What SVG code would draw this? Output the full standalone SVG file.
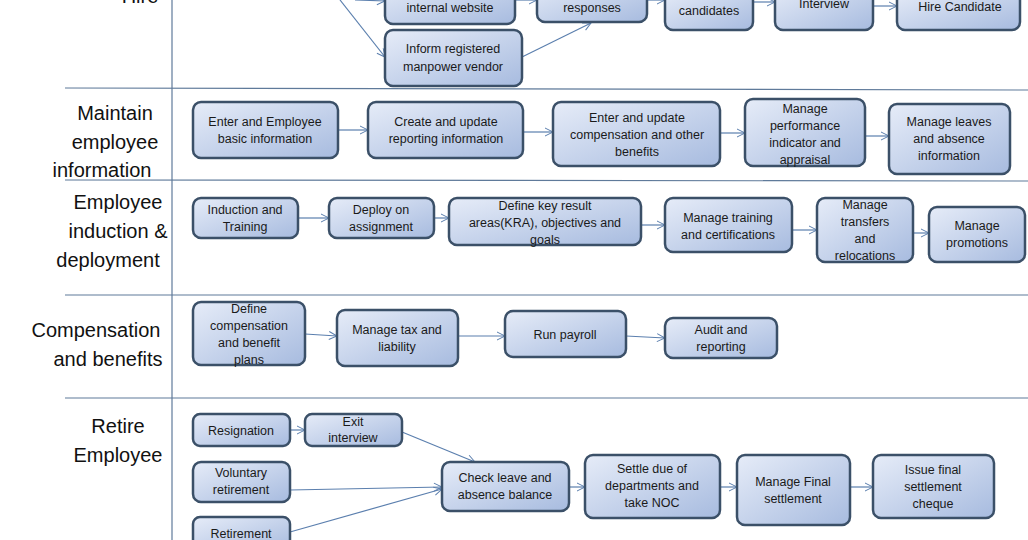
<svg xmlns="http://www.w3.org/2000/svg" width="1028" height="540" viewBox="0 0 1028 540">
<defs>
<linearGradient id="g" x1="0" y1="0" x2="1" y2="1"><stop offset="0" stop-color="#e6ecf8"/><stop offset="1" stop-color="#a7bbdf"/></linearGradient>
<marker id="a" markerWidth="10" markerHeight="10" refX="9" refY="5" orient="auto" markerUnits="userSpaceOnUse"><path d="M1,1 L9,5 L1,9" fill="none" stroke="#5b7fae" stroke-width="1"/></marker>
</defs>
<style>
.b{fill:url(#g);stroke:#3b5068;stroke-width:2.5}
.t{font-family:"Liberation Sans",Arial,sans-serif;font-size:12.5px;fill:#1a1a1a;text-anchor:middle}
.l{font-family:"Liberation Sans",Arial,sans-serif;font-size:20px;fill:#111;text-anchor:middle}
.c line{stroke:#5b7fae;stroke-width:1.2;marker-end:url(#a)}
.g{stroke:#5f7a9a;stroke-width:1.2}
</style>
<rect width="1028" height="540" fill="#fff"/>
<g id="lanes">
<line class="g" x1="172" y1="0" x2="172" y2="540"/>
<line class="g" x1="65" y1="88" x2="1028" y2="90"/>
<line class="g" x1="65" y1="180" x2="1028" y2="181"/>
<line class="g" x1="65" y1="295" x2="1028" y2="295"/>
<line class="g" x1="65" y1="398" x2="1028" y2="398"/>
<text class="l" x="140" y="3">Hire</text>
<text class="l" x="115" y="120">Maintain</text><text class="l" x="115" y="149">employee</text><text class="l" x="102" y="177">information</text>
<text class="l" x="118" y="209">Employee</text><text class="l" x="118" y="238">induction &amp;</text><text class="l" x="108" y="267">deployment</text>
<text class="l" x="96" y="337">Compensation</text><text class="l" x="108" y="366">and benefits</text>
<text class="l" x="118" y="433">Retire</text><text class="l" x="118" y="462">Employee</text>
</g>
<g class="c">
<line x1="340" y1="0" x2="385" y2="57"/>
<line x1="355" y1="0" x2="385" y2="1"/>
<line x1="522" y1="57" x2="591" y2="23"/>
<line x1="515" y1="0" x2="537" y2="0"/>
<line x1="647" y1="0" x2="665" y2="0"/>
<line x1="753" y1="2" x2="775" y2="2"/>
<line x1="873" y1="6" x2="897" y2="6"/>
<line x1="338" y1="130" x2="368" y2="130"/>
<line x1="523" y1="132" x2="553" y2="132"/>
<line x1="720" y1="133" x2="745" y2="133"/>
<line x1="865" y1="136" x2="889" y2="136"/>
<line x1="298" y1="218" x2="329" y2="218"/>
<line x1="434" y1="218" x2="449" y2="218"/>
<line x1="641" y1="225" x2="665" y2="225"/>
<line x1="792" y1="230" x2="817" y2="230"/>
<line x1="913" y1="233" x2="929" y2="233"/>
<line x1="305" y1="334" x2="337" y2="336"/>
<line x1="458" y1="336" x2="505" y2="336"/>
<line x1="626" y1="336" x2="665" y2="338"/>
<line x1="290" y1="430" x2="305" y2="430"/>
<line x1="402" y1="432" x2="475" y2="462"/>
<line x1="290" y1="490" x2="442" y2="487"/>
<line x1="290" y1="532" x2="442" y2="489"/>
<line x1="569" y1="487" x2="585" y2="487"/>
<line x1="720" y1="487" x2="737" y2="487"/>
<line x1="850" y1="487" x2="873" y2="487"/>
</g>
<g id="n1"><rect class="b" x="385" y="-20" width="130" height="44" rx="8"/><text class="t" x="450" y="12">internal website</text></g>
<g id="n2"><rect class="b" x="385" y="30" width="137" height="56" rx="8"/><text class="t" x="453" y="53">Inform registered</text><text class="t" x="453" y="71">manpower vendor</text></g>
<g id="n3"><rect class="b" x="537" y="-20" width="110" height="42" rx="8"/><text class="t" x="592" y="12">responses</text></g>
<g id="n4"><rect class="b" x="665" y="-10" width="88" height="40" rx="8"/><text class="t" x="709" y="15">candidates</text></g>
<g id="n5"><rect class="b" x="775" y="-15" width="98" height="45" rx="8"/><text class="t" x="824" y="8">Interview</text></g>
<g id="n6"><rect class="b" x="897" y="-10" width="123" height="40" rx="8"/><text class="t" x="960" y="11">Hire Candidate</text></g>

<g id="m1"><rect class="b" x="193" y="102" width="145" height="56" rx="8"/><text class="t" x="265" y="126">Enter and Employee</text><text class="t" x="265" y="143">basic information</text></g>
<g id="m2"><rect class="b" x="368" y="102" width="155" height="56" rx="8"/><text class="t" x="446" y="126">Create and update</text><text class="t" x="446" y="143">reporting information</text></g>
<g id="m3"><rect class="b" x="553" y="102" width="167" height="64" rx="8"/><text class="t" x="637" y="122">Enter and update</text><text class="t" x="637" y="139">compensation and other</text><text class="t" x="637" y="156">benefits</text></g>
<g id="m4"><rect class="b" x="745" y="99" width="120" height="67" rx="8"/><text class="t" x="805" y="113">Manage</text><text class="t" x="805" y="130">performance</text><text class="t" x="805" y="147">indicator and</text><text class="t" x="805" y="164">appraisal</text></g>
<g id="m5"><rect class="b" x="889" y="104" width="121" height="70" rx="8"/><text class="t" x="949" y="126">Manage leaves</text><text class="t" x="949" y="143">and absence</text><text class="t" x="949" y="160">information</text></g>

<g id="e1"><rect class="b" x="193" y="198" width="105" height="40" rx="8"/><text class="t" x="245" y="214">Induction and</text><text class="t" x="245" y="231">Training</text></g>
<g id="e2"><rect class="b" x="329" y="198" width="105" height="40" rx="8"/><text class="t" x="381" y="214">Deploy on</text><text class="t" x="381" y="231">assignment</text></g>
<g id="e3"><rect class="b" x="449" y="198" width="192" height="47" rx="8"/><text class="t" x="545" y="210">Define key result</text><text class="t" x="545" y="227">areas(KRA), objectives and</text><text class="t" x="545" y="244">goals</text></g>
<g id="e4"><rect class="b" x="665" y="198" width="127" height="54" rx="8"/><text class="t" x="728" y="222">Manage training</text><text class="t" x="728" y="239">and certifications</text></g>
<g id="e5"><rect class="b" x="817" y="198" width="96" height="64" rx="8"/><text class="t" x="865" y="209">Manage</text><text class="t" x="865" y="226">transfers</text><text class="t" x="865" y="243">and</text><text class="t" x="865" y="260">relocations</text></g>
<g id="e6"><rect class="b" x="929" y="207" width="96" height="55" rx="8"/><text class="t" x="977" y="230">Manage</text><text class="t" x="977" y="247">promotions</text></g>

<g id="c1"><rect class="b" x="193" y="302" width="112" height="63" rx="8"/><text class="t" x="249" y="313">Define</text><text class="t" x="249" y="330">compensation</text><text class="t" x="249" y="347">and benefit</text><text class="t" x="249" y="364">plans</text></g>
<g id="c2"><rect class="b" x="337" y="310" width="121" height="56" rx="8"/><text class="t" x="397" y="334">Manage tax and</text><text class="t" x="397" y="351">liability</text></g>
<g id="c3"><rect class="b" x="505" y="311" width="121" height="46" rx="8"/><text class="t" x="565" y="339">Run payroll</text></g>
<g id="c4"><rect class="b" x="665" y="318" width="112" height="40" rx="8"/><text class="t" x="721" y="334">Audit and</text><text class="t" x="721" y="351">reporting</text></g>

<g id="r1"><rect class="b" x="193" y="414" width="97" height="32" rx="7"/><text class="t" x="241" y="435">Resignation</text></g>
<g id="r2"><rect class="b" x="305" y="414" width="97" height="32" rx="7"/><text class="t" x="353" y="426">Exit</text><text class="t" x="353" y="442">interview</text></g>
<g id="r3"><rect class="b" x="193" y="462" width="97" height="40" rx="8"/><text class="t" x="241" y="477">Voluntary</text><text class="t" x="241" y="494">retirement</text></g>
<g id="r4"><rect class="b" x="193" y="517" width="97" height="34" rx="7"/><text class="t" x="241" y="538">Retirement</text></g>
<g id="r5"><rect class="b" x="442" y="462" width="127" height="49" rx="8"/><text class="t" x="505" y="482">Check leave and</text><text class="t" x="505" y="499">absence balance</text></g>
<g id="r6"><rect class="b" x="585" y="455" width="135" height="63" rx="8"/><text class="t" x="652" y="473">Settle  due of</text><text class="t" x="652" y="490">departments and</text><text class="t" x="652" y="507">take NOC</text></g>
<g id="r7"><rect class="b" x="737" y="455" width="113" height="70" rx="8"/><text class="t" x="793" y="486">Manage Final</text><text class="t" x="793" y="503">settlement</text></g>
<g id="r8"><rect class="b" x="873" y="455" width="121" height="63" rx="8"/><text class="t" x="933" y="474">Issue final</text><text class="t" x="933" y="491">settlement</text><text class="t" x="933" y="508">cheque</text></g>
</svg>
